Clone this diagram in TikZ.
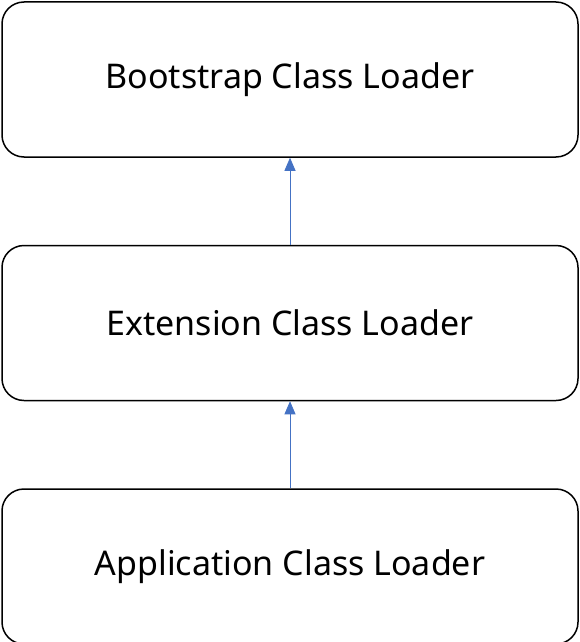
\documentclass[tikz,border=0pt]{standalone}
\usepackage{fontspec}
\setmainfont{Noto Sans}
\usepackage{tikz}
\usetikzlibrary{positioning,arrows.meta}
\definecolor{linkblue}{RGB}{68,114,196}

\begin{document}
\begin{tikzpicture}[node distance=87pt, l/.style={rectangle, rounded corners=22pt, draw, line width=1.5pt, minimum width=576pt, minimum height=155pt, inner sep=0pt, font=\fontsize{34}{40}\selectfont}, link/.style={-{Triangle[width=11pt,length=13pt]}, color=linkblue, line width=0.8pt}]
		\useasboundingbox (0,0) rectangle (580pt,-642pt);
		\node[l] (b) at (290pt,-79.5pt) {Bootstrap Class Loader};
		\node[l, below=of b] (e) {Extension Class Loader};
		\node[l, below=of e] (a) {Application Class Loader};

		\draw[link] (e) -- (b);
		\draw[link] (a) -- (e);
	\end{tikzpicture}
\end{document}
